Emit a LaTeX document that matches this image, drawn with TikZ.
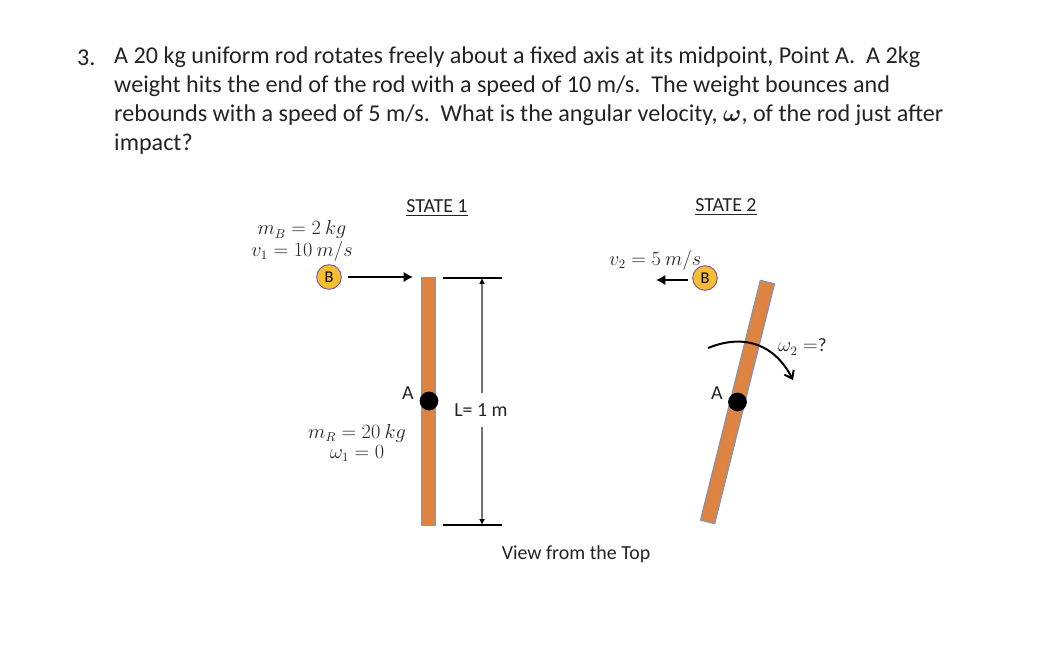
\documentclass[tikz,border=0pt]{standalone}
\usepackage{amsmath}
\usepackage{fontspec}
\setmainfont{Carlito}
\usetikzlibrary{arrows.meta}
\definecolor{rodfill}{RGB}{222,131,64}
\definecolor{rodedge}{RGB}{130,150,180}
\definecolor{ballfill}{RGB}{245,190,50}
\definecolor{balledge}{RGB}{125,80,160}
\definecolor{inktext}{RGB}{35,35,35}
\tikzset{
  qline/.style={anchor=west, inner sep=0pt, font=\fontsize{20.6}{24}\selectfont, text=inktext},
  textlabel/.style={inner sep=0pt, font=\fontsize{17}{20}\selectfont, text=inktext},
  mathlabel/.style={inner sep=0pt, font=\fontsize{16.2}{19}\selectfont, text=inktext, align=center},
  rod/.style={draw=rodedge, fill=rodfill, line width=1pt, minimum width=12.5pt, minimum height=211pt, inner sep=0pt},
  ball/.style={circle, draw=balledge, fill=ballfill, line width=0.8pt, minimum size=21pt, inner sep=0pt, font=\fontsize{14}{16}\selectfont},
  pivot/.style={circle, fill=black, minimum size=16pt, inner sep=0pt},
  thick arrow/.style={-{Latex[length=8pt,width=9pt]}, line width=2.5pt},
  dimline/.style={draw=black!55, line width=0.9pt, -{Latex[length=5pt,width=5pt,black]}}
}
\begin{document}
\begin{tikzpicture}[x=0.03cm, y=-0.03cm]
  \useasboundingbox (0,0) rectangle (1062,646);
  % question
  \node[qline] (num) at (77,57.5) {3.};
  \node[qline] (q1) at (114,57.5) {A 20 kg uniform rod rotates freely about a fixed axis at its midpoint, Point A.\ \ A 2kg};
  \node[qline] (q2) at (114,86.5) {weight hits the end of the rod with a speed of 10 m/s.\ \ The weight bounces and};
  \node[qline] (q3) at (114,115.5) {rebounds with a speed of 5 m/s.\ \ What is the angular velocity, $\boldsymbol{\omega}$, of the rod just after};
  \node[qline] (q4) at (114,144.5) {impact?};

  % state 1
  \node[textlabel] (state1) at (437,208) {\underline{STATE 1}};
  \node[mathlabel] (given1) at (302,241) {$m_B = 2\ kg$\\[-1pt]$v_1 = 10\ m/s$};
  \node[rod] (rod1) at (428.5,401.5) {};
  \node[pivot] (a1) at (429,401) {};
  \node[textlabel] (alabel1) at (408,393) {A};
  \node[ball] (b1) at (329,277) {B};
  \coordinate (b1tip) at (413,277);
  \draw[thick arrow] ([xshift=5pt]b1.east) -- (b1tip);
  \coordinate (top1l) at (443,278);
  \coordinate (top1r) at (502,278);
  \coordinate (bot1l) at (443,525);
  \coordinate (bot1r) at (502,525);
  \coordinate (top1m) at (482,278);
  \coordinate (bot1m) at (482,525);
  \draw[line width=0.9pt] (top1l) -- (top1r);
  \draw[line width=0.9pt] (bot1l) -- (bot1r);
  \node[textlabel, minimum height=29pt] (len) at (481,410) {L= 1 m};
  \draw[dimline] (top1m |- len.north) -- (top1m);
  \draw[dimline] (bot1m |- len.south) -- (bot1m);
  \node[mathlabel] (given2) at (357,443) {$m_R = 20\ kg$\\[-2pt]$\omega_1 = 0$};

  % state 2
  \node[textlabel] (state2) at (726,207) {\underline{STATE 2}};
  \node[mathlabel, anchor=west] (v2) at (609,260) {$v_2 = 5\ m/s$};
  \node[ball] (b2) at (705,278) {B};
  \coordinate (b2tip) at (656,280);
  \draw[thick arrow] ([xshift=-4pt]b2.west |- b2tip) -- (b2tip);
  \node[rod, rotate=-14] (rod2) at (737.5,402) {};
  \node[pivot] (a2) at (737.5,402) {};
  \node[textlabel] (alabel2) at (717,393) {A};
  \coordinate (spin1) at (708,348);
  \coordinate (spin2) at (793,380);
  \draw[-{Straight Barb[length=6pt,width=9pt]}, line width=1.7pt] (spin1) .. controls (745,333) and (775,345) .. (spin2);
  \node[mathlabel, anchor=west] (w2) at (778,347) {$\omega_2 =$?};

  \node[textlabel] (view) at (576,554) {View from the Top};
\end{tikzpicture}
\end{document}
